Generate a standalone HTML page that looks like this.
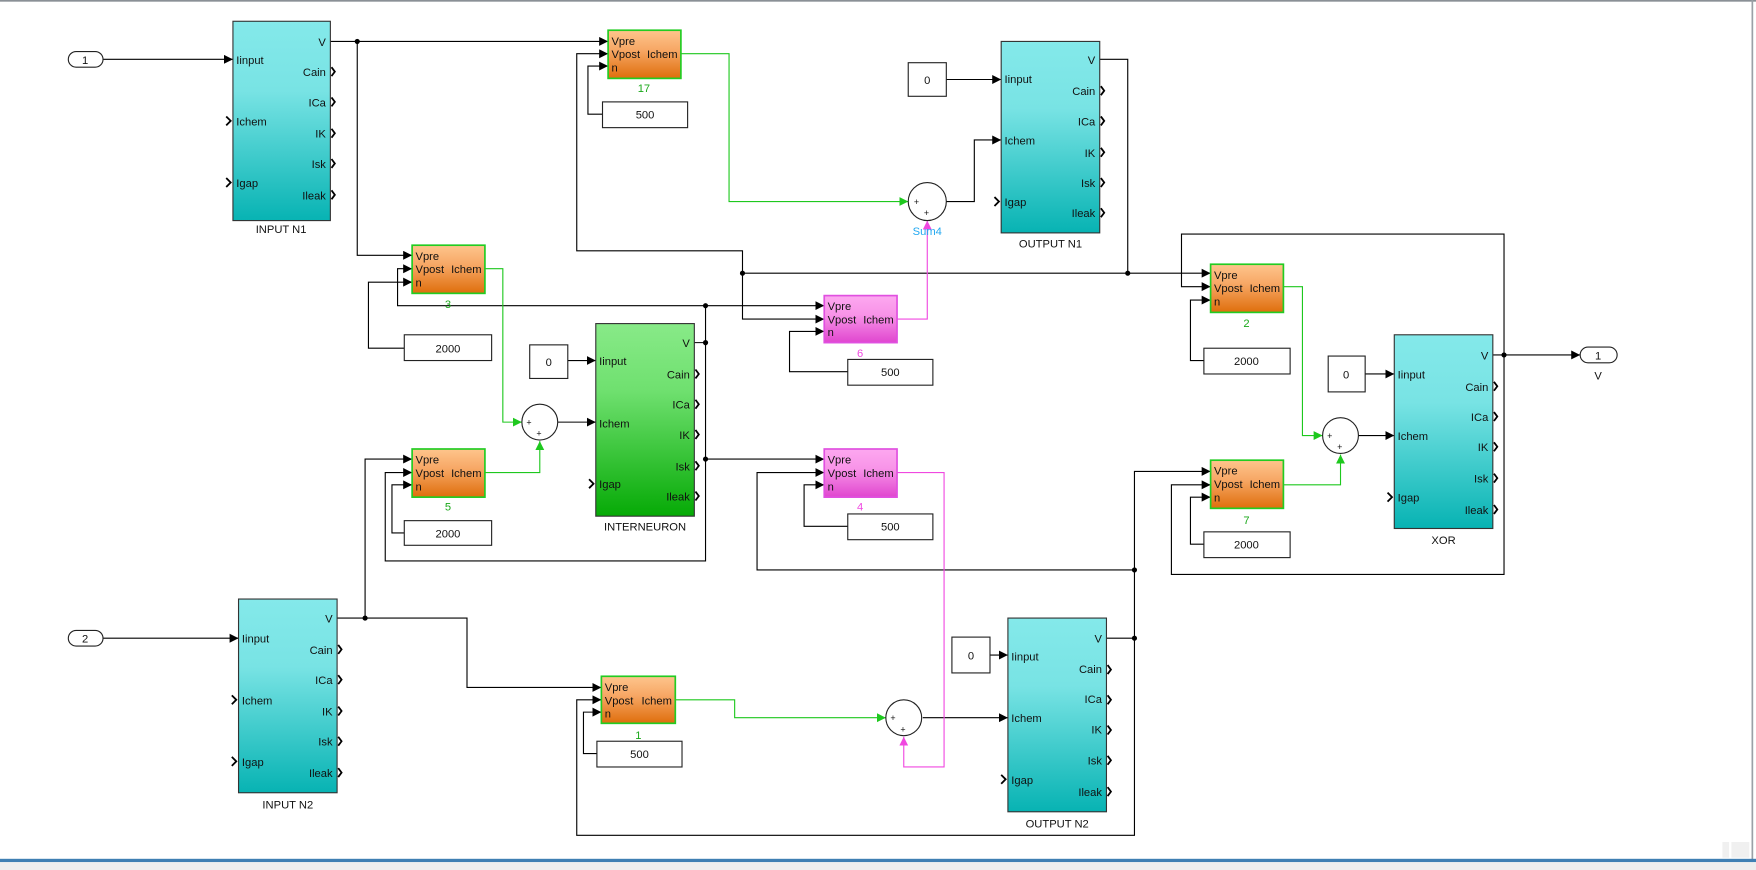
<!DOCTYPE html>
<html><head><meta charset="utf-8"><style>
html,body{margin:0;padding:0;background:#fff;overflow:hidden}
svg{display:block}
text{font-family:"Liberation Sans",sans-serif;font-size:10px;fill:#111}
.w{fill:none;stroke:#000;stroke-width:1}
.g{fill:none;stroke:#1ec81e;stroke-width:1}
.p{fill:none;stroke:#f048e0;stroke-width:1}
.c{fill:#fff;stroke:#222;stroke-width:1}
.ch{fill:none;stroke:#000;stroke-width:1.6}
</style></head><body>
<svg width="1756" height="870" viewBox="0 0 1568 777" preserveAspectRatio="none" xmlns="http://www.w3.org/2000/svg" xml:space="preserve">
<defs>
<linearGradient id="cy" x1="0" y1="0" x2="0" y2="1"><stop offset="0" stop-color="#84e9ea"/><stop offset="0.35" stop-color="#78e3e4"/><stop offset="1" stop-color="#07b3b3"/></linearGradient>
<linearGradient id="gr" x1="0" y1="0" x2="0" y2="1"><stop offset="0" stop-color="#88ea88"/><stop offset="0.35" stop-color="#6fe06f"/><stop offset="1" stop-color="#06aa06"/></linearGradient>
<linearGradient id="or" x1="0" y1="0" x2="0" y2="1"><stop offset="0" stop-color="#fec58c"/><stop offset="0.4" stop-color="#f7a866"/><stop offset="1" stop-color="#df6e0c"/></linearGradient>
<linearGradient id="pk" x1="0" y1="0" x2="0" y2="1"><stop offset="0" stop-color="#fda8f0"/><stop offset="0.4" stop-color="#f894e8"/><stop offset="1" stop-color="#e046cf"/></linearGradient>
<marker id="a" markerUnits="userSpaceOnUse" markerWidth="9" markerHeight="9" refX="8" refY="4" orient="auto"><path d="M0,0 L8,4 L0,8 Z" fill="#000"/></marker>
<marker id="ag" markerUnits="userSpaceOnUse" markerWidth="9" markerHeight="9" refX="8" refY="4" orient="auto"><path d="M0,0 L8,4 L0,8 Z" fill="#1ec81e"/></marker>
<marker id="ap" markerUnits="userSpaceOnUse" markerWidth="9" markerHeight="9" refX="8" refY="4" orient="auto"><path d="M0,0 L8,4 L0,8 Z" fill="#f048e0"/></marker>
</defs>
<rect x="0" y="0" width="1568" height="1.5" fill="#8a9096"/>
<rect x="1564" y="0" width="1.5" height="770" fill="#9aa0a6"/>
<rect x="0" y="767" width="1568" height="3" fill="#3f7fb3"/>
<rect x="0" y="770" width="1568" height="7" fill="#eeeeee"/>

<polyline class="w" points="92,53 208,53" marker-end="url(#a)"/>
<polyline class="w" points="92,570 213,570" marker-end="url(#a)"/>
<polyline class="w" points="295,37 543,37" marker-end="url(#a)"/>
<polyline class="w" points="319,37 319,228 368,228" marker-end="url(#a)"/>
<polyline class="w" points="538,102 525,102 525,59 543,59" marker-end="url(#a)"/>
<polyline class="w" points="663,244 663,224 515,224 515,48 543,48" marker-end="url(#a)"/>
<polyline class="w" points="982,53 1007,53 1007,244 663,244 663,285 736,285" marker-end="url(#a)"/>
<polyline class="w" points="1007,244 1081,244" marker-end="url(#a)"/>
<polyline class="w" points="620,306 630,306 630,273 736,273" marker-end="url(#a)"/>
<polyline class="w" points="630,273 355,273 355,240 368,240" marker-end="url(#a)"/>
<polyline class="w" points="630,306 630,410 736,410" marker-end="url(#a)"/>
<polyline class="w" points="630,410 630,501 344,501 344,422 368,422" marker-end="url(#a)"/>
<polyline class="w" points="757,332 705,332 705,296 736,296" marker-end="url(#a)"/>
<polyline class="w" points="361,311 329,311 329,252 368,252" marker-end="url(#a)"/>
<polyline class="w" points="361,476 350,476 350,433 368,433" marker-end="url(#a)"/>
<polyline class="w" points="301,552 326,552 326,410 368,410" marker-end="url(#a)"/>
<polyline class="w" points="326,552 417,552 417,614 537,614" marker-end="url(#a)"/>
<polyline class="w" points="498,377 532,377" marker-end="url(#a)"/>
<polyline class="w" points="507,322 532,322" marker-end="url(#a)"/>
<polyline class="w" points="845,71 894,71" marker-end="url(#a)"/>
<polyline class="w" points="845,180 870,180 870,125 894,125" marker-end="url(#a)"/>
<polyline class="w" points="1013,509 676,509 676,422 736,422" marker-end="url(#a)"/>
<polyline class="w" points="757,470 718,470 718,433 736,433" marker-end="url(#a)"/>
<polyline class="w" points="988,570 1013,570 1013,421 1081,421" marker-end="url(#a)"/>
<polyline class="w" points="1013,570 1013,746 515,746 515,625 537,625" marker-end="url(#a)"/>
<polyline class="w" points="533,673 521,673 521,636 537,636" marker-end="url(#a)"/>
<polyline class="w" points="824,641 900,641" marker-end="url(#a)"/>
<polyline class="w" points="884,585 900,585" marker-end="url(#a)"/>
<polyline class="w" points="1333,317 1411,317" marker-end="url(#a)"/>
<polyline class="w" points="1343,317 1343,209 1055,209 1055,256 1081,256" marker-end="url(#a)"/>
<polyline class="w" points="1343,317 1343,513 1046,513 1046,433 1081,433" marker-end="url(#a)"/>
<polyline class="w" points="1075,322 1063,322 1063,268 1081,268" marker-end="url(#a)"/>
<polyline class="w" points="1075,486 1063,486 1063,444 1081,444" marker-end="url(#a)"/>
<polyline class="w" points="1213,389 1245,389" marker-end="url(#a)"/>
<polyline class="w" points="1219,334 1245,334" marker-end="url(#a)"/>
<polyline class="g" points="608,48 651,48 651,180 811,180" marker-end="url(#ag)"/>
<polyline class="g" points="433,240 449,240 449,377 466,377" marker-end="url(#ag)"/>
<polyline class="g" points="433,422 482,422 482,394" marker-end="url(#ag)"/>
<polyline class="g" points="603,625 656,625 656,641 791,641" marker-end="url(#ag)"/>
<polyline class="g" points="1146,256 1163,256 1163,389 1181,389" marker-end="url(#ag)"/>
<polyline class="g" points="1146,433 1197,433 1197,406" marker-end="url(#ag)"/>
<polyline class="p" points="801,285 828,285 828,197" marker-end="url(#ap)"/>
<polyline class="p" points="801,422 843,422 843,685 807,685 807,658" marker-end="url(#ap)"/>
<g fill="#000"><circle cx="319" cy="37" r="2.3"/><circle cx="663" cy="244" r="2.3"/><circle cx="1007" cy="244" r="2.3"/><circle cx="630" cy="273" r="2.3"/><circle cx="630" cy="306" r="2.3"/><circle cx="630" cy="410" r="2.3"/><circle cx="326" cy="552" r="2.3"/><circle cx="1013" cy="509" r="2.3"/><circle cx="1013" cy="570" r="2.3"/><circle cx="1343" cy="317" r="2.3"/></g>

<rect class="c" x="61" y="46" width="31" height="14" rx="7"/><text x="76" y="57" text-anchor="middle">1</text>
<rect class="c" x="61" y="563" width="31" height="14" rx="7"/><text x="76" y="574" text-anchor="middle">2</text>
<rect class="c" x="1411" y="310" width="33" height="14" rx="7"/><text x="1427" y="321" text-anchor="middle">1</text><text x="1427" y="339" text-anchor="middle">V</text>

<g>
<rect x="208" y="19" width="87" height="178" fill="url(#cy)" stroke="#333"/>
<text x="211" y="57">Iinput</text><text x="211" y="112">Ichem</text><text x="211" y="167">Igap</text>
<g text-anchor="end"><text x="291" y="41">V</text><text x="291" y="68">Cain</text><text x="291" y="95">ICa</text><text x="291" y="123">IK</text><text x="291" y="150">Isk</text><text x="291" y="178">Ileak</text></g>
<path class="ch" d="M296,60 l3,4 l-3,4 M296,87 l3,4 l-3,4 M296,115 l3,4 l-3,4 M296,142 l3,4 l-3,4 M296,170 l3,4 l-3,4 M202,104 l4,4 l-4,4 M202,159 l4,4 l-4,4"/>
<text x="251" y="208" text-anchor="middle">INPUT N1</text>
</g>
<g>
<rect x="213" y="535" width="88" height="173" fill="url(#cy)" stroke="#333"/>
<text x="216" y="574">Iinput</text><text x="216" y="629">Ichem</text><text x="216" y="684">Igap</text>
<g text-anchor="end"><text x="297" y="556">V</text><text x="297" y="584">Cain</text><text x="297" y="611">ICa</text><text x="297" y="639">IK</text><text x="297" y="666">Isk</text><text x="297" y="694">Ileak</text></g>
<path class="ch" d="M302,576 l3,4 l-3,4 M302,603 l3,4 l-3,4 M302,631 l3,4 l-3,4 M302,658 l3,4 l-3,4 M302,686 l3,4 l-3,4 M207,621 l4,4 l-4,4 M207,676 l4,4 l-4,4"/>
<text x="257" y="722" text-anchor="middle">INPUT N2</text>
</g>
<g>
<rect x="894" y="37" width="88" height="171" fill="url(#cy)" stroke="#333"/>
<text x="897" y="74">Iinput</text><text x="897" y="129">Ichem</text><text x="897" y="184">Igap</text>
<g text-anchor="end"><text x="978" y="57">V</text><text x="978" y="85">Cain</text><text x="978" y="112">ICa</text><text x="978" y="140">IK</text><text x="978" y="167">Isk</text><text x="978" y="194">Ileak</text></g>
<path class="ch" d="M983,77 l3,4 l-3,4 M983,104 l3,4 l-3,4 M983,132 l3,4 l-3,4 M983,159 l3,4 l-3,4 M983,186 l3,4 l-3,4 M888,176 l4,4 l-4,4"/>
<text x="938" y="221" text-anchor="middle">OUTPUT N1</text>
</g>
<g>
<rect x="900" y="552" width="88" height="173" fill="url(#cy)" stroke="#333"/>
<text x="903" y="590">Iinput</text><text x="903" y="645">Ichem</text><text x="903" y="700">Igap</text>
<g text-anchor="end"><text x="984" y="574">V</text><text x="984" y="601">Cain</text><text x="984" y="628">ICa</text><text x="984" y="655">IK</text><text x="984" y="683">Isk</text><text x="984" y="711">Ileak</text></g>
<path class="ch" d="M989,594 l3,4 l-3,4 M989,621 l3,4 l-3,4 M989,648 l3,4 l-3,4 M989,675 l3,4 l-3,4 M989,703 l3,4 l-3,4 M894,692 l4,4 l-4,4"/>
<text x="944" y="739" text-anchor="middle">OUTPUT N2</text>
</g>
<g>
<rect x="532" y="289" width="88" height="172" fill="url(#gr)" stroke="#333"/>
<text x="535" y="326">Iinput</text><text x="535" y="382">Ichem</text><text x="535" y="436">Igap</text>
<g text-anchor="end"><text x="616" y="310">V</text><text x="616" y="338">Cain</text><text x="616" y="365">ICa</text><text x="616" y="392">IK</text><text x="616" y="420">Isk</text><text x="616" y="447">Ileak</text></g>
<path class="ch" d="M621,330 l3,4 l-3,4 M621,357 l3,4 l-3,4 M621,384 l3,4 l-3,4 M621,412 l3,4 l-3,4 M621,439 l3,4 l-3,4 M526,428 l4,4 l-4,4"/>
<text x="576" y="474" text-anchor="middle">INTERNEURON</text>
</g>
<g>
<rect x="1245" y="299" width="88" height="173" fill="url(#cy)" stroke="#333"/>
<text x="1248" y="338">Iinput</text><text x="1248" y="393">Ichem</text><text x="1248" y="448">Igap</text>
<g text-anchor="end"><text x="1329" y="321">V</text><text x="1329" y="349">Cain</text><text x="1329" y="376">ICa</text><text x="1329" y="403">IK</text><text x="1329" y="431">Isk</text><text x="1329" y="459">Ileak</text></g>
<path class="ch" d="M1334,341 l3,4 l-3,4 M1334,368 l3,4 l-3,4 M1334,395 l3,4 l-3,4 M1334,423 l3,4 l-3,4 M1334,451 l3,4 l-3,4 M1239,440 l4,4 l-4,4"/>
<text x="1289" y="486" text-anchor="middle">XOR</text>
</g>

<g>
<rect x="543" y="27" width="65" height="43" fill="url(#or)" stroke="#22cc22" stroke-width="1.5"/>
<text x="546" y="40">Vpre</text><text x="546" y="52">Vpost</text><text x="605" y="52" text-anchor="end">Ichem</text><text x="546" y="64">n</text>
<text x="575" y="82" text-anchor="middle" style="fill:#1aa81a">17</text>
</g>
<g>
<rect x="368" y="219" width="65" height="43" fill="url(#or)" stroke="#22cc22" stroke-width="1.5"/>
<text x="371" y="232">Vpre</text><text x="371" y="244">Vpost</text><text x="430" y="244" text-anchor="end">Ichem</text><text x="371" y="256">n</text>
<text x="400" y="275" text-anchor="middle" style="fill:#1aa81a">3</text>
</g>
<g>
<rect x="368" y="401" width="65" height="43" fill="url(#or)" stroke="#22cc22" stroke-width="1.5"/>
<text x="371" y="414">Vpre</text><text x="371" y="426">Vpost</text><text x="430" y="426" text-anchor="end">Ichem</text><text x="371" y="438">n</text>
<text x="400" y="456" text-anchor="middle" style="fill:#1aa81a">5</text>
</g>
<g>
<rect x="1081" y="236" width="65" height="43" fill="url(#or)" stroke="#22cc22" stroke-width="1.5"/>
<text x="1084" y="249">Vpre</text><text x="1084" y="261">Vpost</text><text x="1143" y="261" text-anchor="end">Ichem</text><text x="1084" y="273">n</text>
<text x="1113" y="292" text-anchor="middle" style="fill:#1aa81a">2</text>
</g>
<g>
<rect x="1081" y="411" width="65" height="43" fill="url(#or)" stroke="#22cc22" stroke-width="1.5"/>
<text x="1084" y="424">Vpre</text><text x="1084" y="436">Vpost</text><text x="1143" y="436" text-anchor="end">Ichem</text><text x="1084" y="448">n</text>
<text x="1113" y="468" text-anchor="middle" style="fill:#1aa81a">7</text>
</g>
<g>
<rect x="537" y="604" width="66" height="42" fill="url(#or)" stroke="#22cc22" stroke-width="1.5"/>
<text x="540" y="617">Vpre</text><text x="540" y="629">Vpost</text><text x="600" y="629" text-anchor="end">Ichem</text><text x="540" y="641">n</text>
<text x="570" y="660" text-anchor="middle" style="fill:#1aa81a">1</text>
</g>
<g>
<rect x="736" y="264" width="65" height="42" fill="url(#pk)" stroke="#e050e0" stroke-width="1.5"/>
<text x="739" y="277">Vpre</text><text x="739" y="289">Vpost</text><text x="798" y="289" text-anchor="end">Ichem</text><text x="739" y="300">n</text>
<text x="768" y="319" text-anchor="middle" style="fill:#f048e0">6</text>
</g>
<g>
<rect x="736" y="401" width="65" height="43" fill="url(#pk)" stroke="#e050e0" stroke-width="1.5"/>
<text x="739" y="414">Vpre</text><text x="739" y="426">Vpost</text><text x="798" y="426" text-anchor="end">Ichem</text><text x="739" y="438">n</text>
<text x="768" y="456" text-anchor="middle" style="fill:#f048e0">4</text>
</g>

<g text-anchor="middle">
<rect class="c" x="538" y="91" width="76" height="23"/><text x="576" y="106">500</text>
<rect class="c" x="361" y="299" width="78" height="23"/><text x="400" y="315">2000</text>
<rect class="c" x="361" y="465" width="78" height="22"/><text x="400" y="480">2000</text>
<rect class="c" x="757" y="321" width="76" height="23"/><text x="795" y="336">500</text>
<rect class="c" x="757" y="459" width="76" height="23"/><text x="795" y="474">500</text>
<rect class="c" x="1075" y="311" width="77" height="23"/><text x="1113" y="326">2000</text>
<rect class="c" x="1075" y="475" width="77" height="23"/><text x="1113" y="490">2000</text>
<rect class="c" x="533" y="662" width="76" height="23"/><text x="571" y="677">500</text>
<rect class="c" x="811" y="56" width="34" height="30"/><text x="828" y="75">0</text>
<rect class="c" x="473" y="308" width="34" height="30"/><text x="490" y="327">0</text>
<rect class="c" x="1186" y="318" width="33" height="32"/><text x="1202" y="338">0</text>
<rect class="c" x="850" y="569" width="34" height="32"/><text x="867" y="589">0</text>
</g>

<g>
<circle class="c" cx="828" cy="180" r="17"/><text x="816" y="183" style="font-size:8px">+</text><text x="825" y="193" style="font-size:8px">+</text>
<text x="828" y="210" text-anchor="middle" style="fill:#22a8f0">Sum4</text>
<circle class="c" cx="482" cy="377" r="16"/><text x="470" y="380" style="font-size:8px">+</text><text x="479" y="390" style="font-size:8px">+</text>
<circle class="c" cx="1197" cy="389" r="16"/><text x="1185" y="392" style="font-size:8px">+</text><text x="1194" y="402" style="font-size:8px">+</text>
<circle class="c" cx="807" cy="641" r="16"/><text x="795" y="644" style="font-size:8px">+</text><text x="804" y="654" style="font-size:8px">+</text>
</g>
<rect x="1538" y="752" width="6" height="14" fill="#f0f0f0"/><rect x="1546" y="752" width="16" height="14" fill="#f0f0f0"/>
</svg>
</body></html>
